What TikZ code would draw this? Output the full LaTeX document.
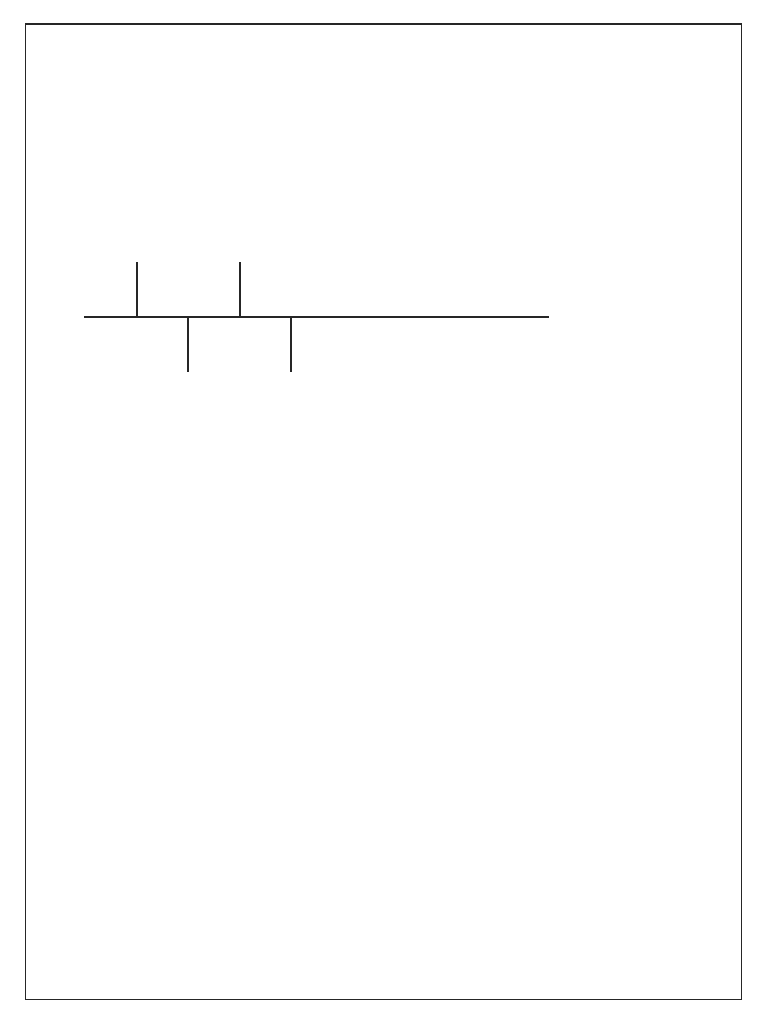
\documentclass[tikz,border=0pt]{standalone}
\begin{document}
\begin{tikzpicture}[x=1pt,y=-1pt,line cap=rect,
  frameline/.style={line width=1.4pt,black!85},
  axisline/.style={line width=1.2pt,black!85}]
\useasboundingbox (0,0) rectangle (768,1024);
\draw[frameline] (25.5,24) rectangle (741.5,999.5);
\draw[axisline] (85,317) -- (548,317);
\draw[axisline] (137,262.5) -- (137,317);
\draw[axisline] (240,262.5) -- (240,317);
\draw[axisline] (188,317) -- (188,371);
\draw[axisline] (291,317) -- (291,371);
\end{tikzpicture}
\end{document}
